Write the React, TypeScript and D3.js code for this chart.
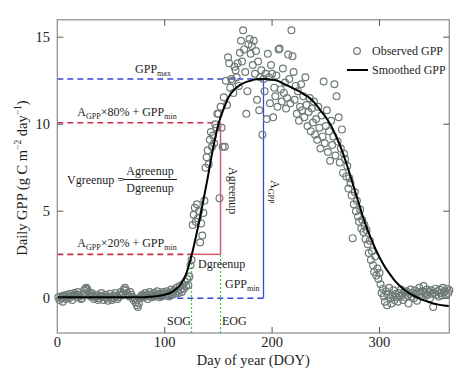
import React from "react";
import * as d3 from "d3";

// Observed daily GPP, days 1..365
const obsGpp: number[] = [
  0.05, -0.1, 0.1, 0.0, -0.2, 0.15, 0.05, -0.05, 0.2, 0.1,
  0.0, 0.25, 0.1, -0.1, 0.15, 0.3, 0.2, 0.05, 0.35, 0.2,
  0.1, -0.05, 0.0, 0.2, 0.45, 0.55, 0.6, 0.5, 0.35, 0.15,
  0.1, 0.3, 0.15, -0.05, 0.05, 0.2, 0.1, -0.1, 0.0, 0.15,
  0.3, 0.1, -0.1, 0.05, 0.2, 0.0, -0.15, 0.1, 0.25, 0.05,
  -0.1, 0.0, 0.15, 0.3, 0.1, -0.05, 0.05, 0.2, 0.35, 0.15,
  0.25, 0.5, 0.6, 0.45, 0.3, 0.15, 0.1, 0.35, 0.2, 0.05,
  -0.1, 0.0, -0.25, -0.4, -0.5, -0.3, 0.0, 0.1, 0.2, 0.05,
  0.15, 0.3, 0.1, -0.05, 0.2, 0.35, 0.15, 0.05, 0.25, 0.1,
  0.3, 0.15, 0.4, 0.2, 0.05, 0.25, 0.1, 0.35, 0.2, 0.3,
  0.15, 0.4, 0.25, 0.1, 0.3, 0.5, 0.2, 0.35, 0.45, 0.25,
  0.6, 0.4, 0.3, 0.7, 0.5, 0.35, 0.8, 0.55, 0.95, 0.7,
  1.1, 0.75, 1.25, 1.9, 2.2, 4.2, 4.8, 5.2, 4.4, 5.4,
  4.6, 5.0, 3.2, 4.3, 3.6, 4.9, 5.6, 7.5, 8.1, 8.5,
  7.7, 9.1, 9.55, 8.7, 9.35, 8.9, 10.0, 9.8, 10.6, 10.6,
  5.75, 11.0, 9.8, 8.7, 11.55, 8.7, 12.5, 11.1, 13.85, 13.5,
  12.1, 12.6, 12.5, 11.8, 13.3, 13.1, 12.7, 13.5, 12.2, 14.1,
  14.8, 13.6, 15.4, 14.3, 13.0, 10.6, 11.9, 14.6, 14.9, 14.05,
  14.5, 13.4, 14.8, 12.9, 14.2, 11.4, 13.6, 10.8, 12.7, 13.1,
  9.4, 12.6, 11.9, 12.9, 10.3, 14.05, 12.7, 11.2, 13.4, 12.9,
  10.4, 12.1, 11.6, 12.8, 11.0, 14.3, 14.35, 12.0, 11.3, 13.2,
  11.8, 12.4, 10.9, 11.5, 14.0, 12.6, 11.2, 15.4, 13.9, 13.0,
  11.4, 12.2, 10.6, 11.9, 10.2, 11.0, 12.3, 10.8, 11.6, 10.4,
  12.7, 11.1, 9.9, 10.7, 11.5, 9.6, 10.9, 10.1, 11.3, 9.4,
  10.3, 9.1, 11.0, 9.8, 8.6, 10.5, 9.3, 12.45, 8.9, 9.9,
  10.8, 8.4, 9.6, 7.9, 10.2, 8.8, 9.3, 12.3, 8.2, 11.6,
  9.0, 10.4, 7.8, 8.6, 9.7, 7.2, 8.3, 8.0, 7.0, 7.6,
  6.3, 6.9, 6.6, 5.9, 3.45, 5.4, 6.1, 5.0, 5.6, 4.7,
  4.4, 5.1, 4.0, 4.5, 3.8, 4.2, 3.4, 3.9, 3.1, 2.6,
  3.3, 2.2, 2.7, 1.9, 1.5, 2.4, 1.3, 1.7, 1.1, 1.45,
  0.8, 0.3, 0.55, 0.1, -0.2, 0.4, -0.4, 0.2, 0.6, 0.0,
  -0.3, 0.15, 0.45, -0.1, 0.25, 0.05, -0.2, 0.3, 0.1, 0.5,
  0.2, -0.1, 0.35, 0.05, 0.4, 0.15, -0.3, 0.25, 0.5, 0.1,
  0.3, 0.0, 0.45, 0.2, -0.15, 0.35, 0.6, 0.25, 0.1, 0.4,
  0.7, 0.3, 0.15, 0.5, 0.2, 0.35, 0.0, 0.45, 0.25, -0.5,
  0.3, 0.55, 0.2, 0.4, 0.1, 0.5, 0.3, 0.15, 0.6, 0.35,
  0.4, 0.2, 0.55, 0.3, 0.45,
];

// Smoothed GPP curve
const smoothDay: number[] = [
  0, 5, 10, 15, 20, 25, 30, 35, 40, 45, 50, 55, 60, 65, 70, 75, 80, 85, 90, 95,
  100, 105, 110, 115, 120, 125, 130, 135, 140, 145, 150, 155, 160, 165, 170, 175,
  180, 185, 190, 195, 200, 205, 210, 215, 220, 225, 230, 235, 240, 245, 250, 255,
  260, 265, 270, 275, 280, 285, 290, 295, 300, 305, 310, 315, 320, 325, 330, 335,
  340, 345, 350, 355, 360, 365,
];
const smoothGpp: number[] = [
  0.05, 0.05, 0.05, 0.05, 0.05, 0.05, 0.05, 0.05, 0.05, 0.05, 0.05, 0.05, 0.05, 0.05, 0.05, 0.05, 0.06, 0.08, 0.1, 0.14,
  0.2, 0.3, 0.5, 0.8, 1.4, 2.45, 3.8, 5.3, 6.9, 8.6, 10.0, 10.9, 11.6, 12.0, 12.25, 12.4,
  12.5, 12.58, 12.6, 12.6, 12.55, 12.5, 12.35, 12.2, 12.05, 11.9, 11.7, 11.5, 11.2, 10.8, 10.4, 9.9,
  9.25, 8.5, 7.6, 6.6, 5.6, 4.6, 3.75, 3.0, 2.35, 1.8, 1.35, 0.95, 0.65, 0.4, 0.2, 0.05,
  -0.1, -0.2, -0.3, -0.37, -0.42, -0.45,
];

const xTicks = [0, 100, 200, 300];
const yTicks = [0, 5, 10, 15];

// Phenology markers
const GPP_MAX = 12.6;
const GPP_MIN = 0;
const SOG = 125;
const EOG = 152;
const PEAK_DOY = 192;

const FONT = "'Liberation Serif', 'Times New Roman', serif";

export default function App() {
  const W = 474, H = 379;
  const x = d3.scaleLinear().domain([0, 365]).range([57.3, 449.3]);
  const y = d3.scaleLinear().domain([-2, 16]).range([333, 19.8]);
  const [x0, x1] = x.range();
  const [yb, yt] = y.range();

  const line = d3
    .line<number>()
    .x((_, i) => x(smoothDay[i]))
    .y((d) => y(d))
    .curve(d3.curveMonotoneX);

  const a80 = GPP_MIN + (GPP_MAX - GPP_MIN) * 0.8;
  const a20 = GPP_MIN + (GPP_MAX - GPP_MIN) * 0.2;

  const blue = "#3a44d6";
  const red = "#c8304c";
  const redSolid = "#d65a6c";
  const green = "#38d038";
  const txt = "#1e1e1e";
  const ptColor = "#6e7a78";

  return (
    <svg
      width={W}
      height={H}
      style={{ position: "absolute", left: 0, top: 0, background: "#fff" }}
      fontFamily={FONT}
    >
      <rect x={0} y={0} width={W} height={H} fill="#fff" />
      {/* reference lines */}
      <line x1={x0} x2={x(PEAK_DOY)} y1={y(GPP_MAX)} y2={y(GPP_MAX)} stroke={blue} strokeWidth={1.5} strokeDasharray="6,4" />
      <line x1={x0} x2={x(PEAK_DOY)} y1={y(GPP_MIN)} y2={y(GPP_MIN)} stroke={blue} strokeWidth={1.5} strokeDasharray="6,4" />
      <line x1={x(PEAK_DOY)} x2={x(PEAK_DOY)} y1={y(GPP_MAX)} y2={y(GPP_MIN)} stroke={blue} strokeWidth={1.3} />
      <line x1={x0} x2={x(EOG)} y1={y(a80)} y2={y(a80)} stroke={red} strokeWidth={1.6} strokeDasharray="6,4" />
      <line x1={x0} x2={x(SOG)} y1={y(a20)} y2={y(a20)} stroke={red} strokeWidth={1.6} strokeDasharray="6,4" />
      <line x1={x(SOG)} x2={x(EOG)} y1={y(a20)} y2={y(a20)} stroke={redSolid} strokeWidth={1.5} />
      <line x1={x(EOG)} x2={x(EOG)} y1={y(a80)} y2={y(a20)} stroke={redSolid} strokeWidth={1.5} />
      <line x1={x(SOG)} x2={x(SOG)} y1={yb} y2={y(a20)} stroke={green} strokeWidth={1.2} strokeDasharray="2,2" />
      <line x1={x(EOG)} x2={x(EOG)} y1={yb} y2={y(a20)} stroke={green} strokeWidth={1.2} strokeDasharray="2,2" />

      {/* observed points */}
      <g fill="none" stroke={ptColor} strokeWidth={1.2}>
        {obsGpp.map((v, i) => (
          <circle key={i} cx={x(i + 1)} cy={y(v)} r={3.4} />
        ))}
      </g>

      {/* smoothed */}
      <path d={line(smoothGpp) || ""} fill="none" stroke="#000" strokeWidth={2} />

      {/* frame */}
      <rect x={x0} y={yt} width={x1 - x0} height={yb - yt} fill="none" stroke="#8a8a8a" strokeWidth={1.2} />
      {xTicks.filter((t) => t > 0).map((t) => (
        <g key={"xt" + t} stroke="#555" strokeWidth={1}>
          <line x1={x(t)} x2={x(t)} y1={yb} y2={yb - 6} />
          <line x1={x(t)} x2={x(t)} y1={yt} y2={yt + 6} />
        </g>
      ))}
      {yTicks.map((t) => (
        <g key={"yt" + t} stroke="#555" strokeWidth={1}>
          <line x1={x0} x2={x0 + 6} y1={y(t)} y2={y(t)} />
          <line x1={x1} x2={x1 - 6} y1={y(t)} y2={y(t)} />
        </g>
      ))}
      {xTicks.map((t) => (
        <text key={"xl" + t} x={x(t)} y={347} textAnchor="middle" fontSize={14.5} fill={txt}>
          {t}
        </text>
      ))}
      {yTicks.map((t) => (
        <text key={"yl" + t} x={50} y={y(t) + 5} textAnchor="end" fontSize={14.5} fill={txt}>
          {t}
        </text>
      ))}
      <text x={(x0 + x1) / 2} y={365} textAnchor="middle" fontSize={14.5} fill={txt}>
        Day of year (DOY)
      </text>
      <text transform="translate(27,178) rotate(-90)" textAnchor="middle" fontSize={14.5} fill={txt}>
        Daily GPP (g C m<tspan fontSize={9.5} dy={-6}>−2</tspan>
        <tspan dy={6}> day</tspan>
        <tspan fontSize={9.5} dy={-6}>−1</tspan>
        <tspan dy={6}>)</tspan>
      </text>

      {/* annotations */}
      <g fontSize={12} fill={txt}>
        <text x={153} y={73} textAnchor="middle">
          GPP<tspan fontSize={8} dy={3}>max</tspan>
        </text>
        <text x={127} y={116} textAnchor="middle">
          A<tspan fontSize={8} dy={3}>GPP</tspan>
          <tspan dy={-3}>×80% + GPP</tspan>
          <tspan fontSize={8} dy={3}>min</tspan>
        </text>
        <text x={67} y={184}>Vgreenup =</text>
        <text x={150} y={175} textAnchor="middle">Agreenup</text>
        <line x1={123} x2={177} y1={179.5} y2={179.5} stroke={txt} strokeWidth={1} />
        <text x={150} y={192} textAnchor="middle">Dgreenup</text>
        <text x={127} y={247} textAnchor="middle">
          A<tspan fontSize={8} dy={3}>GPP</tspan>
          <tspan dy={-3}>×20% + GPP</tspan>
          <tspan fontSize={8} dy={3}>min</tspan>
        </text>
        <text transform="translate(229,167) rotate(90)">Agreenup</text>
        <text transform="translate(271,180) rotate(90)">
          A<tspan fontSize={8} dy={3}>GPP</tspan>
        </text>
        <text x={198} y={268}>Dgreenup</text>
        <text x={225} y={288}>
          GPP<tspan fontSize={8} dy={3}>min</tspan>
        </text>
        <text x={167} y={325}>SOG</text>
        <text x={222} y={325}>EOG</text>
      </g>

      {/* legend */}
      <g fontSize={12} fill={txt}>
        <circle cx={357} cy={51} r={3.4} fill="none" stroke={ptColor} strokeWidth={1.2} />
        <text x={372} y={55}>Observed GPP</text>
        <line x1={347} x2={368} y1={70} y2={70} stroke="#000" strokeWidth={2} />
        <text x={372} y={74}>Smoothed GPP</text>
      </g>
    </svg>
  );
}
